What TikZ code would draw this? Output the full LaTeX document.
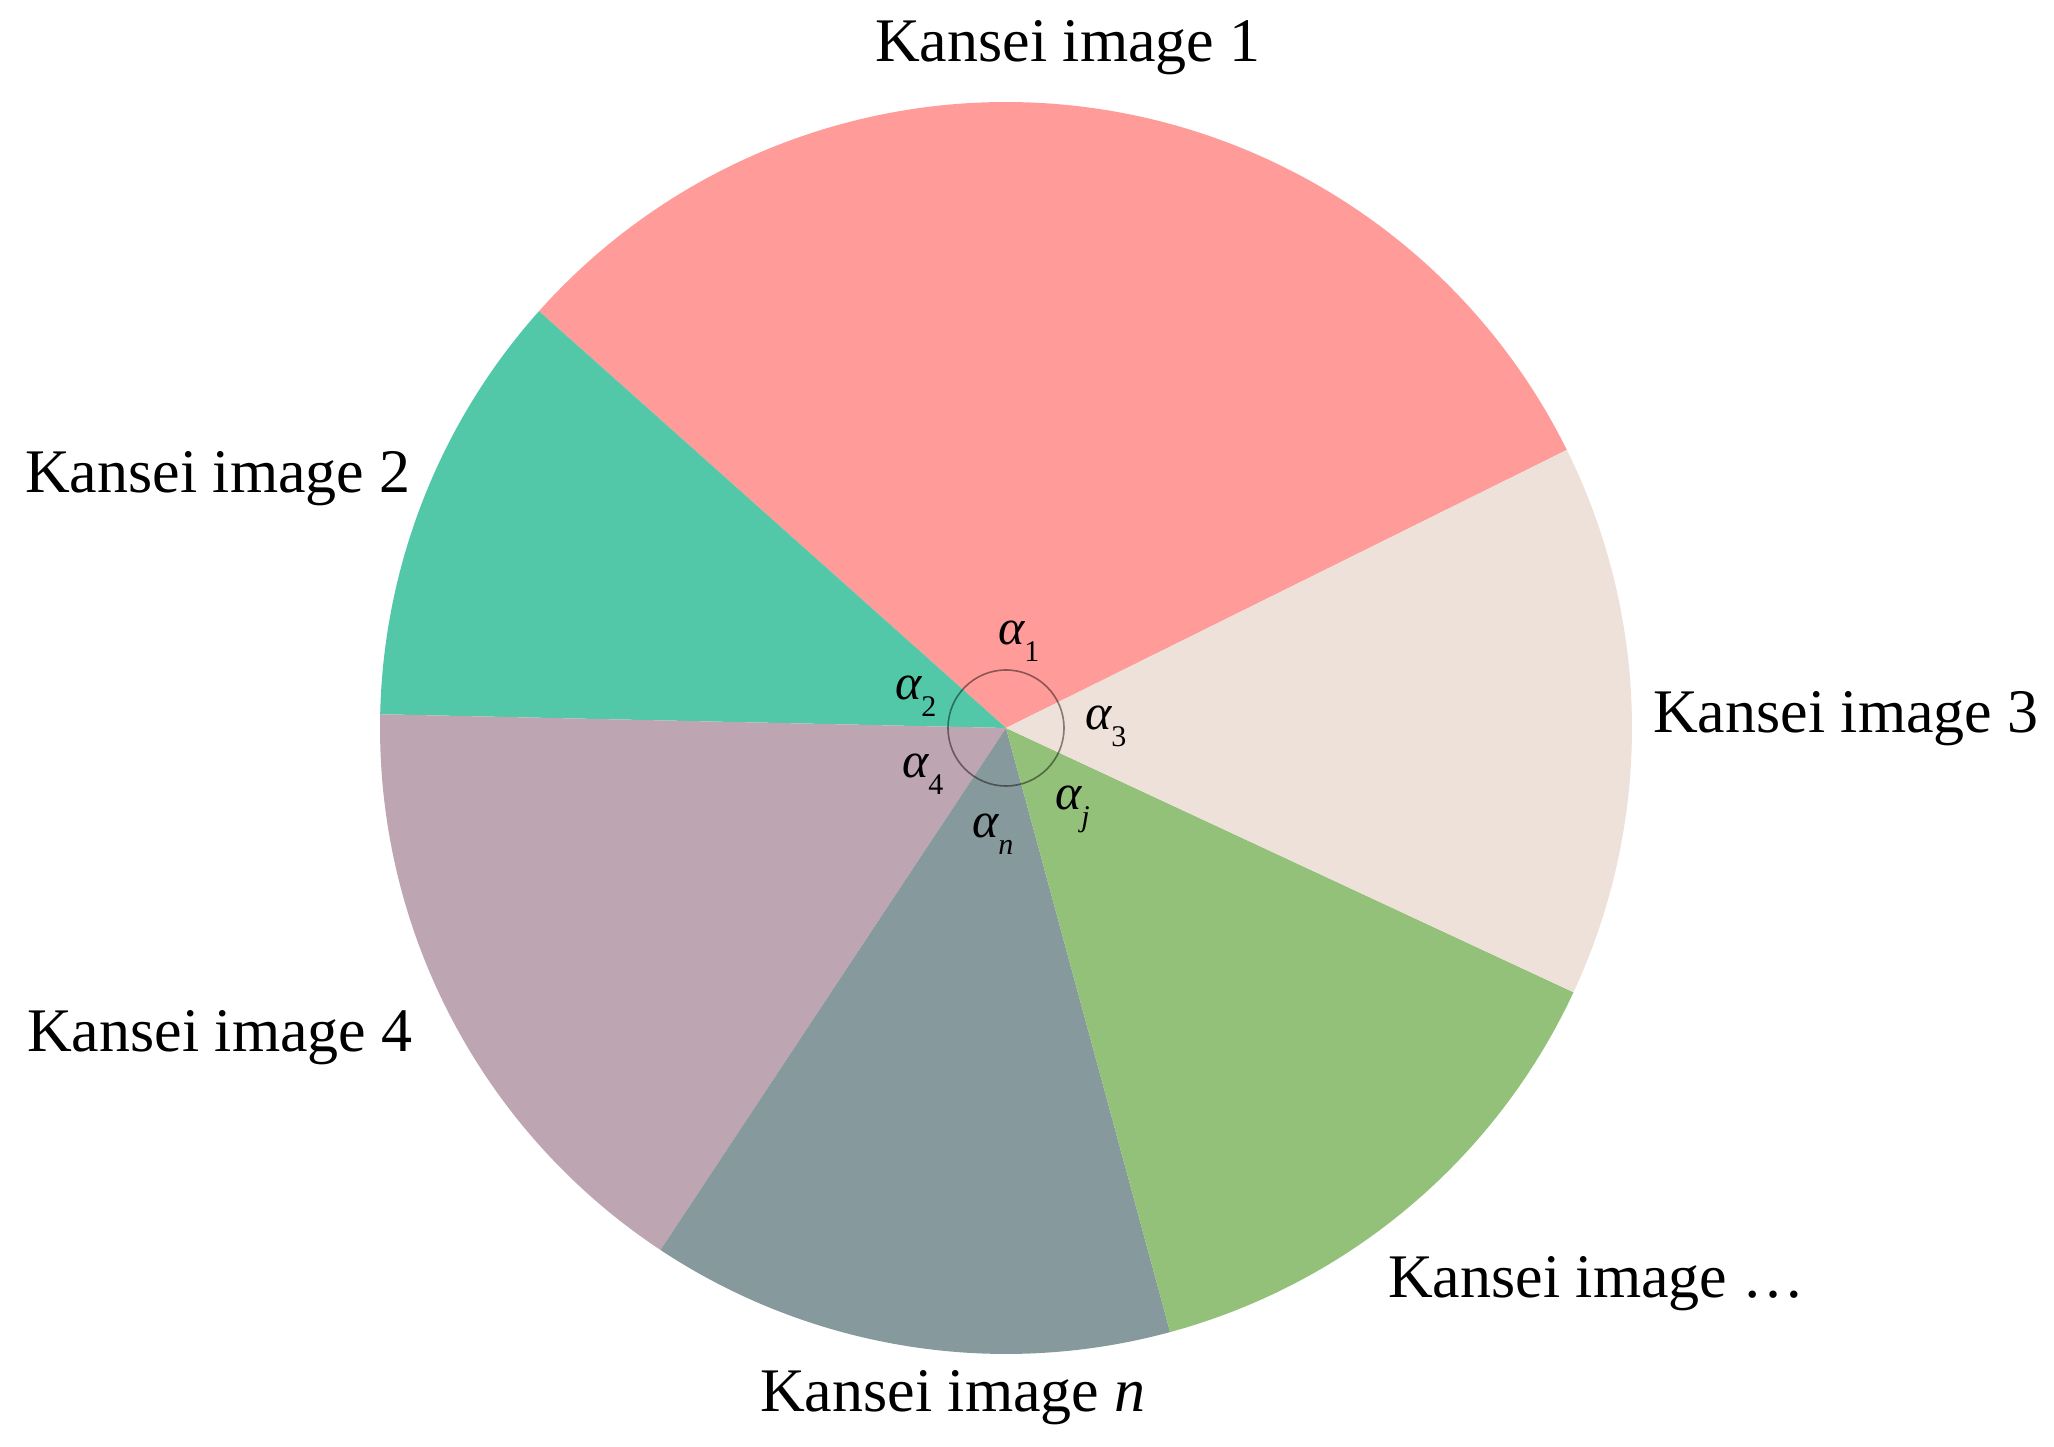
\documentclass[tikz,border=0pt]{standalone}
\usepackage{fontspec}
\setmainfont{Liberation Serif}
\definecolor{sred}{HTML}{FF9C99}
\definecolor{steal}{HTML}{53C8A9}
\definecolor{sbeige}{HTML}{EDE1D9}
\definecolor{sgreen}{HTML}{93C179}
\definecolor{sgrey}{HTML}{86999D}
\definecolor{smauve}{HTML}{BDA5B1}
\newcommand\alphsubx[1]{\raisebox{-17pt}{\fontsize{30}{30}\selectfont #1}}
\begin{document}
\begin{tikzpicture}[x=1pt,y=1pt,
  big/.style={anchor=base west, inner sep=0pt, font=\fontsize{62}{70}\selectfont},
  ang/.style={anchor=base west, inner sep=0pt, font=\fontsize{50}{52}\selectfont\itshape}]
\useasboundingbox (0,0) rectangle (2054,1447);
\coordinate (c) at (1006,719);
\fill[sred]   (c) -- ++(26.37:626)  arc[start angle=26.37,  end angle=138.25, radius=626] -- cycle;
\fill[steal]  (c) -- ++(138.25:626) arc[start angle=138.25, end angle=178.74, radius=626] -- cycle;
\fill[smauve] (c) -- ++(178.74:626) arc[start angle=178.74, end angle=236.5,  radius=626] -- cycle;
\fill[sgrey]  (c) -- ++(236.5:626)  arc[start angle=236.5,  end angle=285.2,  radius=626] -- cycle;
\fill[sgreen] (c) -- ++(285.2:626)  arc[start angle=285.2,  end angle=335.03, radius=626] -- cycle;
\fill[sbeige] (c) -- ++(335.03:626) arc[start angle=335.03, end angle=386.37, radius=626] -- cycle;
\draw[black, draw opacity=0.45, line width=1.6pt] (c) circle[radius=58];
\node[big] (k1) at (875,1385) {Kansei image 1};
\node[big] (k2) at (25,954) {Kansei image 2};
\node[big] (k3) at (1653,714) {Kansei image 3};
\node[big] (k4) at (27,395) {Kansei image 4};
\node[big] (kj) at (1388,149) {Kansei image …};
\node[big] (kn) at (760,35) {Kansei image \textit{n}};
\node[ang] (a1) at (998,802) {α\alphsubx{\upshape 1}};
\node[ang] (a2) at (895,747) {α\alphsubx{\upshape 2}};
\node[ang] (a3) at (1085,717) {α\alphsubx{\upshape 3}};
\node[ang] (a4) at (902,669) {α\alphsubx{\upshape 4}};
\node[ang] (aj) at (1055,637) {α\alphsubx{j}};
\node[ang] (an) at (972,609) {α\alphsubx{n}};
\end{tikzpicture}
\end{document}
